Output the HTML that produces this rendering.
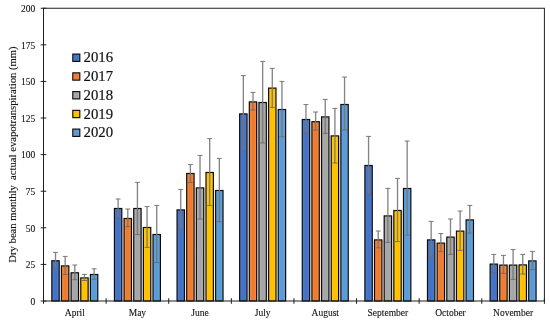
<!DOCTYPE html>
<html><head><meta charset="utf-8"><title>Dry bean monthly actual evapotranspiration</title>
<style>html,body{margin:0;padding:0;background:#fff}svg{display:block}.bl{filter:blur(0.3px)}text{font-family:"Liberation Serif","Times New Roman",serif;fill:#111;stroke:#111;stroke-width:0.1px}.lg{stroke-width:0.18px}</style></head><body>
<svg width="550" height="320" viewBox="0 0 550 320">
<defs>
<linearGradient id="g0" x1="0" x2="1" y1="0" y2="0"><stop offset="0" stop-color="#4f82d8"/><stop offset="0.35" stop-color="#4472c4"/><stop offset="0.65" stop-color="#4472c4"/><stop offset="1" stop-color="#4f82d8"/></linearGradient>
<linearGradient id="g1" x1="0" x2="1" y1="0" y2="0"><stop offset="0" stop-color="#ff8e3e"/><stop offset="0.35" stop-color="#ec7c32"/><stop offset="0.65" stop-color="#ec7c32"/><stop offset="1" stop-color="#ff8e3e"/></linearGradient>
<linearGradient id="g2" x1="0" x2="1" y1="0" y2="0"><stop offset="0" stop-color="#b4b4b4"/><stop offset="0.35" stop-color="#a6a6a6"/><stop offset="0.65" stop-color="#a6a6a6"/><stop offset="1" stop-color="#b4b4b4"/></linearGradient>
<linearGradient id="g3" x1="0" x2="1" y1="0" y2="0"><stop offset="0" stop-color="#ffcc10"/><stop offset="0.35" stop-color="#ffc000"/><stop offset="0.65" stop-color="#ffc000"/><stop offset="1" stop-color="#ffcc10"/></linearGradient>
<linearGradient id="g4" x1="0" x2="1" y1="0" y2="0"><stop offset="0" stop-color="#6aaae4"/><stop offset="0.35" stop-color="#5b9bd5"/><stop offset="0.65" stop-color="#5b9bd5"/><stop offset="1" stop-color="#6aaae4"/></linearGradient>
</defs>
<rect width="550" height="320" fill="#fff"/>
<g class="bl">
<rect x="59.38" y="265.90" width="1.90" height="35.10" fill="#ececec"/>
<rect x="69.03" y="272.80" width="1.90" height="28.20" fill="#ececec"/>
<rect x="78.68" y="277.90" width="1.90" height="23.10" fill="#ececec"/>
<rect x="88.33" y="277.90" width="1.90" height="23.10" fill="#ececec"/>
<rect x="121.99" y="218.50" width="1.90" height="82.50" fill="#ececec"/>
<rect x="131.64" y="218.50" width="1.90" height="82.50" fill="#ececec"/>
<rect x="141.29" y="227.50" width="1.90" height="73.50" fill="#ececec"/>
<rect x="150.94" y="234.50" width="1.90" height="66.50" fill="#ececec"/>
<rect x="184.61" y="209.90" width="1.90" height="91.10" fill="#ececec"/>
<rect x="194.26" y="187.90" width="1.90" height="113.10" fill="#ececec"/>
<rect x="203.91" y="187.90" width="1.90" height="113.10" fill="#ececec"/>
<rect x="213.56" y="190.50" width="1.90" height="110.50" fill="#ececec"/>
<rect x="247.22" y="113.90" width="1.90" height="187.10" fill="#ececec"/>
<rect x="256.87" y="102.50" width="1.90" height="198.50" fill="#ececec"/>
<rect x="266.52" y="102.50" width="1.90" height="198.50" fill="#ececec"/>
<rect x="276.17" y="109.50" width="1.90" height="191.50" fill="#ececec"/>
<rect x="309.83" y="121.70" width="1.90" height="179.30" fill="#ececec"/>
<rect x="319.48" y="121.70" width="1.90" height="179.30" fill="#ececec"/>
<rect x="329.13" y="135.90" width="1.90" height="165.10" fill="#ececec"/>
<rect x="338.78" y="135.90" width="1.90" height="165.10" fill="#ececec"/>
<rect x="372.44" y="239.90" width="1.90" height="61.10" fill="#ececec"/>
<rect x="382.09" y="239.90" width="1.90" height="61.10" fill="#ececec"/>
<rect x="391.74" y="215.90" width="1.90" height="85.10" fill="#ececec"/>
<rect x="401.39" y="210.50" width="1.90" height="90.50" fill="#ececec"/>
<rect x="435.06" y="243.10" width="1.90" height="57.90" fill="#ececec"/>
<rect x="444.71" y="243.10" width="1.90" height="57.90" fill="#ececec"/>
<rect x="454.36" y="237.10" width="1.90" height="63.90" fill="#ececec"/>
<rect x="464.01" y="231.10" width="1.90" height="69.90" fill="#ececec"/>
<rect x="497.67" y="265.10" width="1.90" height="35.90" fill="#ececec"/>
<rect x="507.32" y="265.10" width="1.90" height="35.90" fill="#ececec"/>
<rect x="516.97" y="265.10" width="1.90" height="35.90" fill="#ececec"/>
<rect x="526.62" y="264.90" width="1.90" height="36.10" fill="#ececec"/>
<rect x="51.83" y="260.80" width="7.35" height="40.20" fill="url(#g0)" stroke="#0a0a0a" stroke-width="1.2"/>
<rect x="61.48" y="265.90" width="7.35" height="35.10" fill="url(#g1)" stroke="#0a0a0a" stroke-width="1.2"/>
<rect x="71.13" y="272.80" width="7.35" height="28.20" fill="url(#g2)" stroke="#0a0a0a" stroke-width="1.2"/>
<rect x="80.78" y="277.90" width="7.35" height="23.10" fill="url(#g3)" stroke="#0a0a0a" stroke-width="1.2"/>
<rect x="90.43" y="274.50" width="7.35" height="26.50" fill="url(#g4)" stroke="#0a0a0a" stroke-width="1.2"/>
<rect x="114.44" y="208.50" width="7.35" height="92.50" fill="url(#g0)" stroke="#0a0a0a" stroke-width="1.2"/>
<rect x="124.09" y="218.50" width="7.35" height="82.50" fill="url(#g1)" stroke="#0a0a0a" stroke-width="1.2"/>
<rect x="133.74" y="208.50" width="7.35" height="92.50" fill="url(#g2)" stroke="#0a0a0a" stroke-width="1.2"/>
<rect x="143.39" y="227.50" width="7.35" height="73.50" fill="url(#g3)" stroke="#0a0a0a" stroke-width="1.2"/>
<rect x="153.04" y="234.50" width="7.35" height="66.50" fill="url(#g4)" stroke="#0a0a0a" stroke-width="1.2"/>
<rect x="177.06" y="209.90" width="7.35" height="91.10" fill="url(#g0)" stroke="#0a0a0a" stroke-width="1.2"/>
<rect x="186.71" y="173.50" width="7.35" height="127.50" fill="url(#g1)" stroke="#0a0a0a" stroke-width="1.2"/>
<rect x="196.36" y="187.90" width="7.35" height="113.10" fill="url(#g2)" stroke="#0a0a0a" stroke-width="1.2"/>
<rect x="206.01" y="172.50" width="7.35" height="128.50" fill="url(#g3)" stroke="#0a0a0a" stroke-width="1.2"/>
<rect x="215.66" y="190.50" width="7.35" height="110.50" fill="url(#g4)" stroke="#0a0a0a" stroke-width="1.2"/>
<rect x="239.67" y="113.90" width="7.35" height="187.10" fill="url(#g0)" stroke="#0a0a0a" stroke-width="1.2"/>
<rect x="249.32" y="101.90" width="7.35" height="199.10" fill="url(#g1)" stroke="#0a0a0a" stroke-width="1.2"/>
<rect x="258.97" y="102.50" width="7.35" height="198.50" fill="url(#g2)" stroke="#0a0a0a" stroke-width="1.2"/>
<rect x="268.62" y="88.10" width="7.35" height="212.90" fill="url(#g3)" stroke="#0a0a0a" stroke-width="1.2"/>
<rect x="278.27" y="109.50" width="7.35" height="191.50" fill="url(#g4)" stroke="#0a0a0a" stroke-width="1.2"/>
<rect x="302.28" y="119.50" width="7.35" height="181.50" fill="url(#g0)" stroke="#0a0a0a" stroke-width="1.2"/>
<rect x="311.93" y="121.70" width="7.35" height="179.30" fill="url(#g1)" stroke="#0a0a0a" stroke-width="1.2"/>
<rect x="321.58" y="116.90" width="7.35" height="184.10" fill="url(#g2)" stroke="#0a0a0a" stroke-width="1.2"/>
<rect x="331.23" y="135.90" width="7.35" height="165.10" fill="url(#g3)" stroke="#0a0a0a" stroke-width="1.2"/>
<rect x="340.88" y="104.50" width="7.35" height="196.50" fill="url(#g4)" stroke="#0a0a0a" stroke-width="1.2"/>
<rect x="364.89" y="165.50" width="7.35" height="135.50" fill="url(#g0)" stroke="#0a0a0a" stroke-width="1.2"/>
<rect x="374.54" y="239.90" width="7.35" height="61.10" fill="url(#g1)" stroke="#0a0a0a" stroke-width="1.2"/>
<rect x="384.19" y="215.90" width="7.35" height="85.10" fill="url(#g2)" stroke="#0a0a0a" stroke-width="1.2"/>
<rect x="393.84" y="210.50" width="7.35" height="90.50" fill="url(#g3)" stroke="#0a0a0a" stroke-width="1.2"/>
<rect x="403.49" y="188.50" width="7.35" height="112.50" fill="url(#g4)" stroke="#0a0a0a" stroke-width="1.2"/>
<rect x="427.51" y="239.90" width="7.35" height="61.10" fill="url(#g0)" stroke="#0a0a0a" stroke-width="1.2"/>
<rect x="437.16" y="243.10" width="7.35" height="57.90" fill="url(#g1)" stroke="#0a0a0a" stroke-width="1.2"/>
<rect x="446.81" y="237.10" width="7.35" height="63.90" fill="url(#g2)" stroke="#0a0a0a" stroke-width="1.2"/>
<rect x="456.46" y="231.10" width="7.35" height="69.90" fill="url(#g3)" stroke="#0a0a0a" stroke-width="1.2"/>
<rect x="466.11" y="219.90" width="7.35" height="81.10" fill="url(#g4)" stroke="#0a0a0a" stroke-width="1.2"/>
<rect x="490.12" y="264.10" width="7.35" height="36.90" fill="url(#g0)" stroke="#0a0a0a" stroke-width="1.2"/>
<rect x="499.77" y="265.10" width="7.35" height="35.90" fill="url(#g1)" stroke="#0a0a0a" stroke-width="1.2"/>
<rect x="509.42" y="265.10" width="7.35" height="35.90" fill="url(#g2)" stroke="#0a0a0a" stroke-width="1.2"/>
<rect x="519.07" y="264.90" width="7.35" height="36.10" fill="url(#g3)" stroke="#0a0a0a" stroke-width="1.2"/>
<rect x="528.72" y="260.90" width="7.35" height="40.10" fill="url(#g4)" stroke="#0a0a0a" stroke-width="1.2"/>
<path d="M55.51 252.40V268.20" stroke="#787878" stroke-opacity="0.9" stroke-width="1.35" fill="none"/>
<path d="M53.06 252.40H57.96M53.06 268.20H57.96" stroke="#6c6c6c" stroke-opacity="0.9" stroke-width="1" fill="none"/>
<path d="M65.16 256.40V274.40" stroke="#787878" stroke-opacity="0.9" stroke-width="1.35" fill="none"/>
<path d="M62.71 256.40H67.61M62.71 274.40H67.61" stroke="#6c6c6c" stroke-opacity="0.9" stroke-width="1" fill="none"/>
<path d="M74.81 265.00V279.70" stroke="#787878" stroke-opacity="0.9" stroke-width="1.35" fill="none"/>
<path d="M72.36 265.00H77.26M72.36 279.70H77.26" stroke="#6c6c6c" stroke-opacity="0.9" stroke-width="1" fill="none"/>
<path d="M84.46 274.40V280.50" stroke="#787878" stroke-opacity="0.9" stroke-width="1.35" fill="none"/>
<path d="M82.01 274.40H86.91M82.01 280.50H86.91" stroke="#6c6c6c" stroke-opacity="0.9" stroke-width="1" fill="none"/>
<path d="M94.11 268.80V279.30" stroke="#787878" stroke-opacity="0.9" stroke-width="1.35" fill="none"/>
<path d="M91.66 268.80H96.56M91.66 279.30H96.56" stroke="#6c6c6c" stroke-opacity="0.9" stroke-width="1" fill="none"/>
<path d="M118.12 199.00V218.00" stroke="#787878" stroke-opacity="0.9" stroke-width="1.35" fill="none"/>
<path d="M115.67 199.00H120.57M115.67 218.00H120.57" stroke="#6c6c6c" stroke-opacity="0.9" stroke-width="1" fill="none"/>
<path d="M127.77 209.00V226.60" stroke="#787878" stroke-opacity="0.9" stroke-width="1.35" fill="none"/>
<path d="M125.32 209.00H130.22M125.32 226.60H130.22" stroke="#6c6c6c" stroke-opacity="0.9" stroke-width="1" fill="none"/>
<path d="M137.42 182.40V234.60" stroke="#787878" stroke-opacity="0.9" stroke-width="1.35" fill="none"/>
<path d="M134.97 182.40H139.87M134.97 234.60H139.87" stroke="#6c6c6c" stroke-opacity="0.9" stroke-width="1" fill="none"/>
<path d="M147.07 206.60V247.40" stroke="#787878" stroke-opacity="0.9" stroke-width="1.35" fill="none"/>
<path d="M144.62 206.60H149.52M144.62 247.40H149.52" stroke="#6c6c6c" stroke-opacity="0.9" stroke-width="1" fill="none"/>
<path d="M156.72 205.40V262.60" stroke="#787878" stroke-opacity="0.9" stroke-width="1.35" fill="none"/>
<path d="M154.27 205.40H159.17M154.27 262.60H159.17" stroke="#6c6c6c" stroke-opacity="0.9" stroke-width="1" fill="none"/>
<path d="M180.73 189.40V229.40" stroke="#787878" stroke-opacity="0.9" stroke-width="1.35" fill="none"/>
<path d="M178.28 189.40H183.18M178.28 229.40H183.18" stroke="#6c6c6c" stroke-opacity="0.9" stroke-width="1" fill="none"/>
<path d="M190.38 164.60V182.50" stroke="#787878" stroke-opacity="0.9" stroke-width="1.35" fill="none"/>
<path d="M187.93 164.60H192.83M187.93 182.50H192.83" stroke="#6c6c6c" stroke-opacity="0.9" stroke-width="1" fill="none"/>
<path d="M200.03 155.40V219.00" stroke="#787878" stroke-opacity="0.9" stroke-width="1.35" fill="none"/>
<path d="M197.58 155.40H202.48M197.58 219.00H202.48" stroke="#6c6c6c" stroke-opacity="0.9" stroke-width="1" fill="none"/>
<path d="M209.68 138.60V205.50" stroke="#787878" stroke-opacity="0.9" stroke-width="1.35" fill="none"/>
<path d="M207.23 138.60H212.13M207.23 205.50H212.13" stroke="#6c6c6c" stroke-opacity="0.9" stroke-width="1" fill="none"/>
<path d="M219.33 158.40V221.70" stroke="#787878" stroke-opacity="0.9" stroke-width="1.35" fill="none"/>
<path d="M216.88 158.40H221.78M216.88 221.70H221.78" stroke="#6c6c6c" stroke-opacity="0.9" stroke-width="1" fill="none"/>
<path d="M243.34 75.60V150.60" stroke="#787878" stroke-opacity="0.9" stroke-width="1.35" fill="none"/>
<path d="M240.89 75.60H245.79M240.89 150.60H245.79" stroke="#6c6c6c" stroke-opacity="0.9" stroke-width="1" fill="none"/>
<path d="M252.99 92.40V110.00" stroke="#787878" stroke-opacity="0.9" stroke-width="1.35" fill="none"/>
<path d="M250.54 92.40H255.44M250.54 110.00H255.44" stroke="#6c6c6c" stroke-opacity="0.9" stroke-width="1" fill="none"/>
<path d="M262.64 61.40V143.00" stroke="#787878" stroke-opacity="0.9" stroke-width="1.35" fill="none"/>
<path d="M260.19 61.40H265.09M260.19 143.00H265.09" stroke="#6c6c6c" stroke-opacity="0.9" stroke-width="1" fill="none"/>
<path d="M272.29 68.40V107.40" stroke="#787878" stroke-opacity="0.9" stroke-width="1.35" fill="none"/>
<path d="M269.84 68.40H274.74M269.84 107.40H274.74" stroke="#6c6c6c" stroke-opacity="0.9" stroke-width="1" fill="none"/>
<path d="M281.94 81.40V136.70" stroke="#787878" stroke-opacity="0.9" stroke-width="1.35" fill="none"/>
<path d="M279.49 81.40H284.39M279.49 136.70H284.39" stroke="#6c6c6c" stroke-opacity="0.9" stroke-width="1" fill="none"/>
<path d="M305.96 104.60V133.40" stroke="#787878" stroke-opacity="0.9" stroke-width="1.35" fill="none"/>
<path d="M303.51 104.60H308.41M303.51 133.40H308.41" stroke="#6c6c6c" stroke-opacity="0.9" stroke-width="1" fill="none"/>
<path d="M315.61 112.00V130.00" stroke="#787878" stroke-opacity="0.9" stroke-width="1.35" fill="none"/>
<path d="M313.16 112.00H318.06M313.16 130.00H318.06" stroke="#6c6c6c" stroke-opacity="0.9" stroke-width="1" fill="none"/>
<path d="M325.26 99.40V133.40" stroke="#787878" stroke-opacity="0.9" stroke-width="1.35" fill="none"/>
<path d="M322.81 99.40H327.71M322.81 133.40H327.71" stroke="#6c6c6c" stroke-opacity="0.9" stroke-width="1" fill="none"/>
<path d="M334.91 108.40V163.00" stroke="#787878" stroke-opacity="0.9" stroke-width="1.35" fill="none"/>
<path d="M332.46 108.40H337.36M332.46 163.00H337.36" stroke="#6c6c6c" stroke-opacity="0.9" stroke-width="1" fill="none"/>
<path d="M344.56 77.00V130.00" stroke="#787878" stroke-opacity="0.9" stroke-width="1.35" fill="none"/>
<path d="M342.11 77.00H347.01M342.11 130.00H347.01" stroke="#6c6c6c" stroke-opacity="0.9" stroke-width="1" fill="none"/>
<path d="M368.57 136.40V194.00" stroke="#787878" stroke-opacity="0.9" stroke-width="1.35" fill="none"/>
<path d="M366.12 136.40H371.02M366.12 194.00H371.02" stroke="#6c6c6c" stroke-opacity="0.9" stroke-width="1" fill="none"/>
<path d="M378.22 231.00V247.90" stroke="#787878" stroke-opacity="0.9" stroke-width="1.35" fill="none"/>
<path d="M375.77 231.00H380.67M375.77 247.90H380.67" stroke="#6c6c6c" stroke-opacity="0.9" stroke-width="1" fill="none"/>
<path d="M387.87 188.40V242.40" stroke="#787878" stroke-opacity="0.9" stroke-width="1.35" fill="none"/>
<path d="M385.42 188.40H390.32M385.42 242.40H390.32" stroke="#6c6c6c" stroke-opacity="0.9" stroke-width="1" fill="none"/>
<path d="M397.52 178.40V241.60" stroke="#787878" stroke-opacity="0.9" stroke-width="1.35" fill="none"/>
<path d="M395.07 178.40H399.97M395.07 241.60H399.97" stroke="#6c6c6c" stroke-opacity="0.9" stroke-width="1" fill="none"/>
<path d="M407.17 141.00V235.20" stroke="#787878" stroke-opacity="0.9" stroke-width="1.35" fill="none"/>
<path d="M404.72 141.00H409.62M404.72 235.20H409.62" stroke="#6c6c6c" stroke-opacity="0.9" stroke-width="1" fill="none"/>
<path d="M431.18 221.40V257.50" stroke="#787878" stroke-opacity="0.9" stroke-width="1.35" fill="none"/>
<path d="M428.73 221.40H433.63M428.73 257.50H433.63" stroke="#6c6c6c" stroke-opacity="0.9" stroke-width="1" fill="none"/>
<path d="M440.83 233.60V251.60" stroke="#787878" stroke-opacity="0.9" stroke-width="1.35" fill="none"/>
<path d="M438.38 233.60H443.28M438.38 251.60H443.28" stroke="#6c6c6c" stroke-opacity="0.9" stroke-width="1" fill="none"/>
<path d="M450.48 219.00V254.40" stroke="#787878" stroke-opacity="0.9" stroke-width="1.35" fill="none"/>
<path d="M448.03 219.00H452.93M448.03 254.40H452.93" stroke="#6c6c6c" stroke-opacity="0.9" stroke-width="1" fill="none"/>
<path d="M460.13 211.00V250.40" stroke="#787878" stroke-opacity="0.9" stroke-width="1.35" fill="none"/>
<path d="M457.68 211.00H462.58M457.68 250.40H462.58" stroke="#6c6c6c" stroke-opacity="0.9" stroke-width="1" fill="none"/>
<path d="M469.78 205.40V233.00" stroke="#787878" stroke-opacity="0.9" stroke-width="1.35" fill="none"/>
<path d="M467.33 205.40H472.23M467.33 233.00H472.23" stroke="#6c6c6c" stroke-opacity="0.9" stroke-width="1" fill="none"/>
<path d="M493.79 254.40V272.40" stroke="#787878" stroke-opacity="0.9" stroke-width="1.35" fill="none"/>
<path d="M491.34 254.40H496.24M491.34 272.40H496.24" stroke="#6c6c6c" stroke-opacity="0.9" stroke-width="1" fill="none"/>
<path d="M503.44 255.40V273.40" stroke="#787878" stroke-opacity="0.9" stroke-width="1.35" fill="none"/>
<path d="M500.99 255.40H505.89M500.99 273.40H505.89" stroke="#6c6c6c" stroke-opacity="0.9" stroke-width="1" fill="none"/>
<path d="M513.09 249.60V279.40" stroke="#787878" stroke-opacity="0.9" stroke-width="1.35" fill="none"/>
<path d="M510.64 249.60H515.54M510.64 279.40H515.54" stroke="#6c6c6c" stroke-opacity="0.9" stroke-width="1" fill="none"/>
<path d="M522.74 254.40V274.00" stroke="#787878" stroke-opacity="0.9" stroke-width="1.35" fill="none"/>
<path d="M520.29 254.40H525.19M520.29 274.00H525.19" stroke="#6c6c6c" stroke-opacity="0.9" stroke-width="1" fill="none"/>
<path d="M532.39 251.40V269.60" stroke="#787878" stroke-opacity="0.9" stroke-width="1.35" fill="none"/>
<path d="M529.94 251.40H534.84M529.94 269.60H534.84" stroke="#6c6c6c" stroke-opacity="0.9" stroke-width="1" fill="none"/>
</g>
<rect x="43.5" y="8.25" width="500.90" height="292.75" fill="none" stroke="#1f1f1f" stroke-width="1"/>
<path d="M40.70 301.00H46.30M40.70 264.41H46.30M40.70 227.81H46.30M40.70 191.22H46.30M40.70 154.62H46.30M40.70 118.03H46.30M40.70 81.44H46.30M40.70 44.84H46.30M40.70 8.25H46.30M43.50 298.20V303.80M106.11 298.20V303.80M168.72 298.20V303.80M231.34 298.20V303.80M293.95 298.20V303.80M356.56 298.20V303.80M419.17 298.20V303.80M481.79 298.20V303.80M544.40 298.20V303.80" stroke="#1f1f1f" stroke-width="1" fill="none"/>
<text x="35.2" y="304.80" font-size="9.5" text-anchor="end">0</text>
<text x="35.2" y="268.21" font-size="9.5" text-anchor="end">25</text>
<text x="35.2" y="231.61" font-size="9.5" text-anchor="end">50</text>
<text x="35.2" y="195.02" font-size="9.5" text-anchor="end">75</text>
<text x="35.2" y="158.43" font-size="9.5" text-anchor="end">100</text>
<text x="35.2" y="121.83" font-size="9.5" text-anchor="end">125</text>
<text x="35.2" y="85.24" font-size="9.5" text-anchor="end">150</text>
<text x="35.2" y="48.64" font-size="9.5" text-anchor="end">175</text>
<text x="35.2" y="12.05" font-size="9.5" text-anchor="end">200</text>
<text x="74.81" y="315.5" font-size="9.5" text-anchor="middle">April</text>
<text x="137.42" y="315.5" font-size="9.5" text-anchor="middle">May</text>
<text x="200.03" y="315.5" font-size="9.5" text-anchor="middle">June</text>
<text x="262.64" y="315.5" font-size="9.5" text-anchor="middle">July</text>
<text x="325.26" y="315.5" font-size="9.5" text-anchor="middle">August</text>
<text x="387.87" y="315.5" font-size="9.5" text-anchor="middle">September</text>
<text x="450.48" y="315.5" font-size="9.5" text-anchor="middle">October</text>
<text x="513.09" y="315.5" font-size="9.5" text-anchor="middle">November</text>
<text transform="translate(15.6 154.5) rotate(-90)" font-size="10.65" text-anchor="middle" xml:space="preserve">Dry bean monthly  actual evapotranspiration (mm)</text>
<rect x="72.8" y="54.10" width="7.0" height="7.3" fill="url(#g0)" stroke="#0a0a0a" stroke-width="1.15"/>
<text class="lg" x="83.6" y="62.35" font-size="14.75">2016</text>
<rect x="72.8" y="72.85" width="7.0" height="7.3" fill="url(#g1)" stroke="#0a0a0a" stroke-width="1.15"/>
<text class="lg" x="83.6" y="81.10" font-size="14.75">2017</text>
<rect x="72.8" y="91.60" width="7.0" height="7.3" fill="url(#g2)" stroke="#0a0a0a" stroke-width="1.15"/>
<text class="lg" x="83.6" y="99.85" font-size="14.75">2018</text>
<rect x="72.8" y="110.35" width="7.0" height="7.3" fill="url(#g3)" stroke="#0a0a0a" stroke-width="1.15"/>
<text class="lg" x="83.6" y="118.60" font-size="14.75">2019</text>
<rect x="72.8" y="129.10" width="7.0" height="7.3" fill="url(#g4)" stroke="#0a0a0a" stroke-width="1.15"/>
<text class="lg" x="83.6" y="137.35" font-size="14.75">2020</text>
</svg></body></html>
